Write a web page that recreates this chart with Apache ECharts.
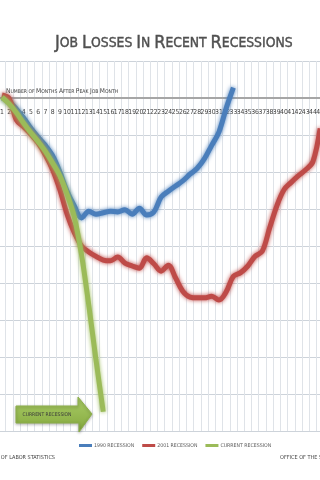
<!DOCTYPE html>
<html><head><meta charset="utf-8">
<script src="https://cdn.jsdelivr.net/npm/echarts@6/dist/echarts.min.js"></script>
<style>html,body{margin:0;padding:0;background:#fff;overflow:hidden;width:320px;height:480px;position:relative;}#c{position:absolute;left:-10px;top:0;width:340px;height:480px;}</style>
</head><body><div id="c"></div>
<script>
const months = [];
for (let i = 1; i <= 45; i++) months.push(String(i));
const rec1990 = [0,-0.05,-0.15,-0.27,-0.41,-0.53,-0.64,-0.78,-1.00,-1.26,-1.46,-1.62,-1.53,-1.57,-1.55,-1.53,-1.54,-1.51,-1.57,-1.49,-1.58,-1.54,-1.34,-1.26,-1.19,-1.12,-1.03,-0.95,-0.82,-0.64,-0.46,-0.14,0.14];
const rec2001 = [0.04,-0.01,-0.30,-0.39,-0.49,-0.61,-0.77,-0.97,-1.24,-1.57,-1.82,-2.00,-2.08,-2.14,-2.19,-2.20,-2.15,-2.23,-2.27,-2.30,-2.16,-2.24,-2.34,-2.26,-2.43,-2.61,-2.69,-2.70,-2.70,-2.68,-2.73,-2.62,-2.41,-2.36,-2.27,-2.14,-2.07,-1.76,-1.46,-1.24,-1.14,-1.05,-0.97,-0.86,-0.41];
const recCurrent = [0.01,-0.08,-0.20,-0.34,-0.47,-0.59,-0.72,-0.88,-1.05,-1.30,-1.61,-2.12,-2.80,-3.54,-4.24];
const seriesNames = ['1990 Recession','2001 Recession','Current Recession'];
const colors = ['#4a7ebb','#be4b48','#9bbb59'];

const chart = echarts.init(document.getElementById('c'), null, {renderer:'canvas'});
const FF = 'DejaVu Sans Condensed, Liberation Sans, sans-serif';
const OX = 10; // container offset
function mkSeries(name, data, color){
  return {name:name, type:'line', data:data, smooth:0.35, symbol:'none', clip:false,
    lineStyle:{width:5, color:color, shadowColor:color, shadowBlur:4},
    itemStyle:{color:color}};
}
chart.setOption({
  animation:false,
  backgroundColor:'#ffffff',
  title:[{
    text:'{b|J}{s|OB }{b|L}{s|OSSES }{b|I}{s|N }{b|R}{s|ECENT }{b|R}{s|ECESSIONS}',
    left:OX+50, top:29,
    textStyle:{rich:{
      b:{fontSize:18, fontWeight:'normal', fontFamily:FF, color:'#505050', textBorderColor:'#505050', textBorderWidth:0.4},
      s:{fontSize:13.8, fontWeight:'normal', fontFamily:FF, color:'#505050', textBorderColor:'#505050', textBorderWidth:0.4}
    }}
  },{
    text:'{b|N}{s|UMBER OF }{b|M}{s|ONTHS }{b|A}{s|FTER }{b|P}{s|EAK }{b|J}{s|OB }{b|M}{s|ONTH}',
    left:OX+1, top:83,
    textStyle:{rich:{
      b:{fontSize:6.6, fontWeight:'normal', fontFamily:FF, color:'#404040'},
      s:{fontSize:5.1, fontWeight:'normal', fontFamily:FF, color:'#404040'}
    }}
  }],
  legend:{
    data:seriesNames, left:OX+74, top:438, width:260, itemWidth:13, itemGap:8, itemHeight:3, icon:'rect',
    textStyle:{fontSize:5.2, color:'#595959', fontFamily:FF, padding:[0,0,0,-3]},
    formatter:function(n){ return n.toUpperCase(); }
  },
  grid:{left:OX-1.6, top:61, width:325.35, height:370, containLabel:false},
  xAxis:[{
    type:'category', data:months, boundaryGap:true, position:'bottom',
    axisLine:{onZero:true, lineStyle:{color:'#a6a6a6', width:2}},
    axisTick:{show:false},
    axisLabel:{show:false},
    splitLine:{show:true, interval:0, lineStyle:{color:'#dfe3e8', width:1}}
  },{
    type:'category', data:months, boundaryGap:true, position:'top', offset:-37,
    axisLine:{show:false}, axisTick:{show:false}, splitLine:{show:false},
    axisLabel:{inside:true, interval:0, fontSize:6.8, color:'#404040', margin:11, fontFamily:FF}
  }],
  yAxis:{
    type:'value', min:-4.5, max:0.5, interval:0.5,
    axisLine:{show:false}, axisTick:{show:false}, axisLabel:{show:false},
    splitLine:{show:true, lineStyle:{color:'#cdd3da', width:1}}
  },
  series:[
    mkSeries(seriesNames[0], rec1990, colors[0]),
    mkSeries(seriesNames[1], rec2001, colors[1]),
    mkSeries(seriesNames[2], recCurrent, colors[2])
  ],
  graphic:[
    {type:'polygon', z:10, shape:{points:[[OX+16,406],[OX+78,406],[OX+78,397],[OX+92,414],[OX+79,432],[OX+79,423],[OX+16,423]]},
      style:{fill:new echarts.graphic.LinearGradient(0,0,0,1,[{offset:0,color:'#a9cc66'},{offset:1,color:'#84a83e'}]),
        stroke:'#8db04a', lineWidth:1, shadowColor:'rgba(0,0,0,0.3)', shadowBlur:3, shadowOffsetY:1}},
    {type:'text', z:11, x:OX+47, y:414.5, style:{text:'CURRENT RECESSION', fontSize:5, fill:'#3a3a3a', textAlign:'center', textVerticalAlign:'middle', fontFamily:FF}},
    {type:'text', x:OX+55, y:458, style:{text:'SOURCE: BUREAU OF LABOR STATISTICS', fontSize:5.5, fill:'#404040', textAlign:'right', textVerticalAlign:'middle', fontFamily:FF}},
    {type:'text', x:OX+280, y:458, style:{text:'OFFICE OF THE SPEAKER', fontSize:5.5, fill:'#404040', textAlign:'left', textVerticalAlign:'middle', fontFamily:FF}}
  ]
});
</script></body></html>
